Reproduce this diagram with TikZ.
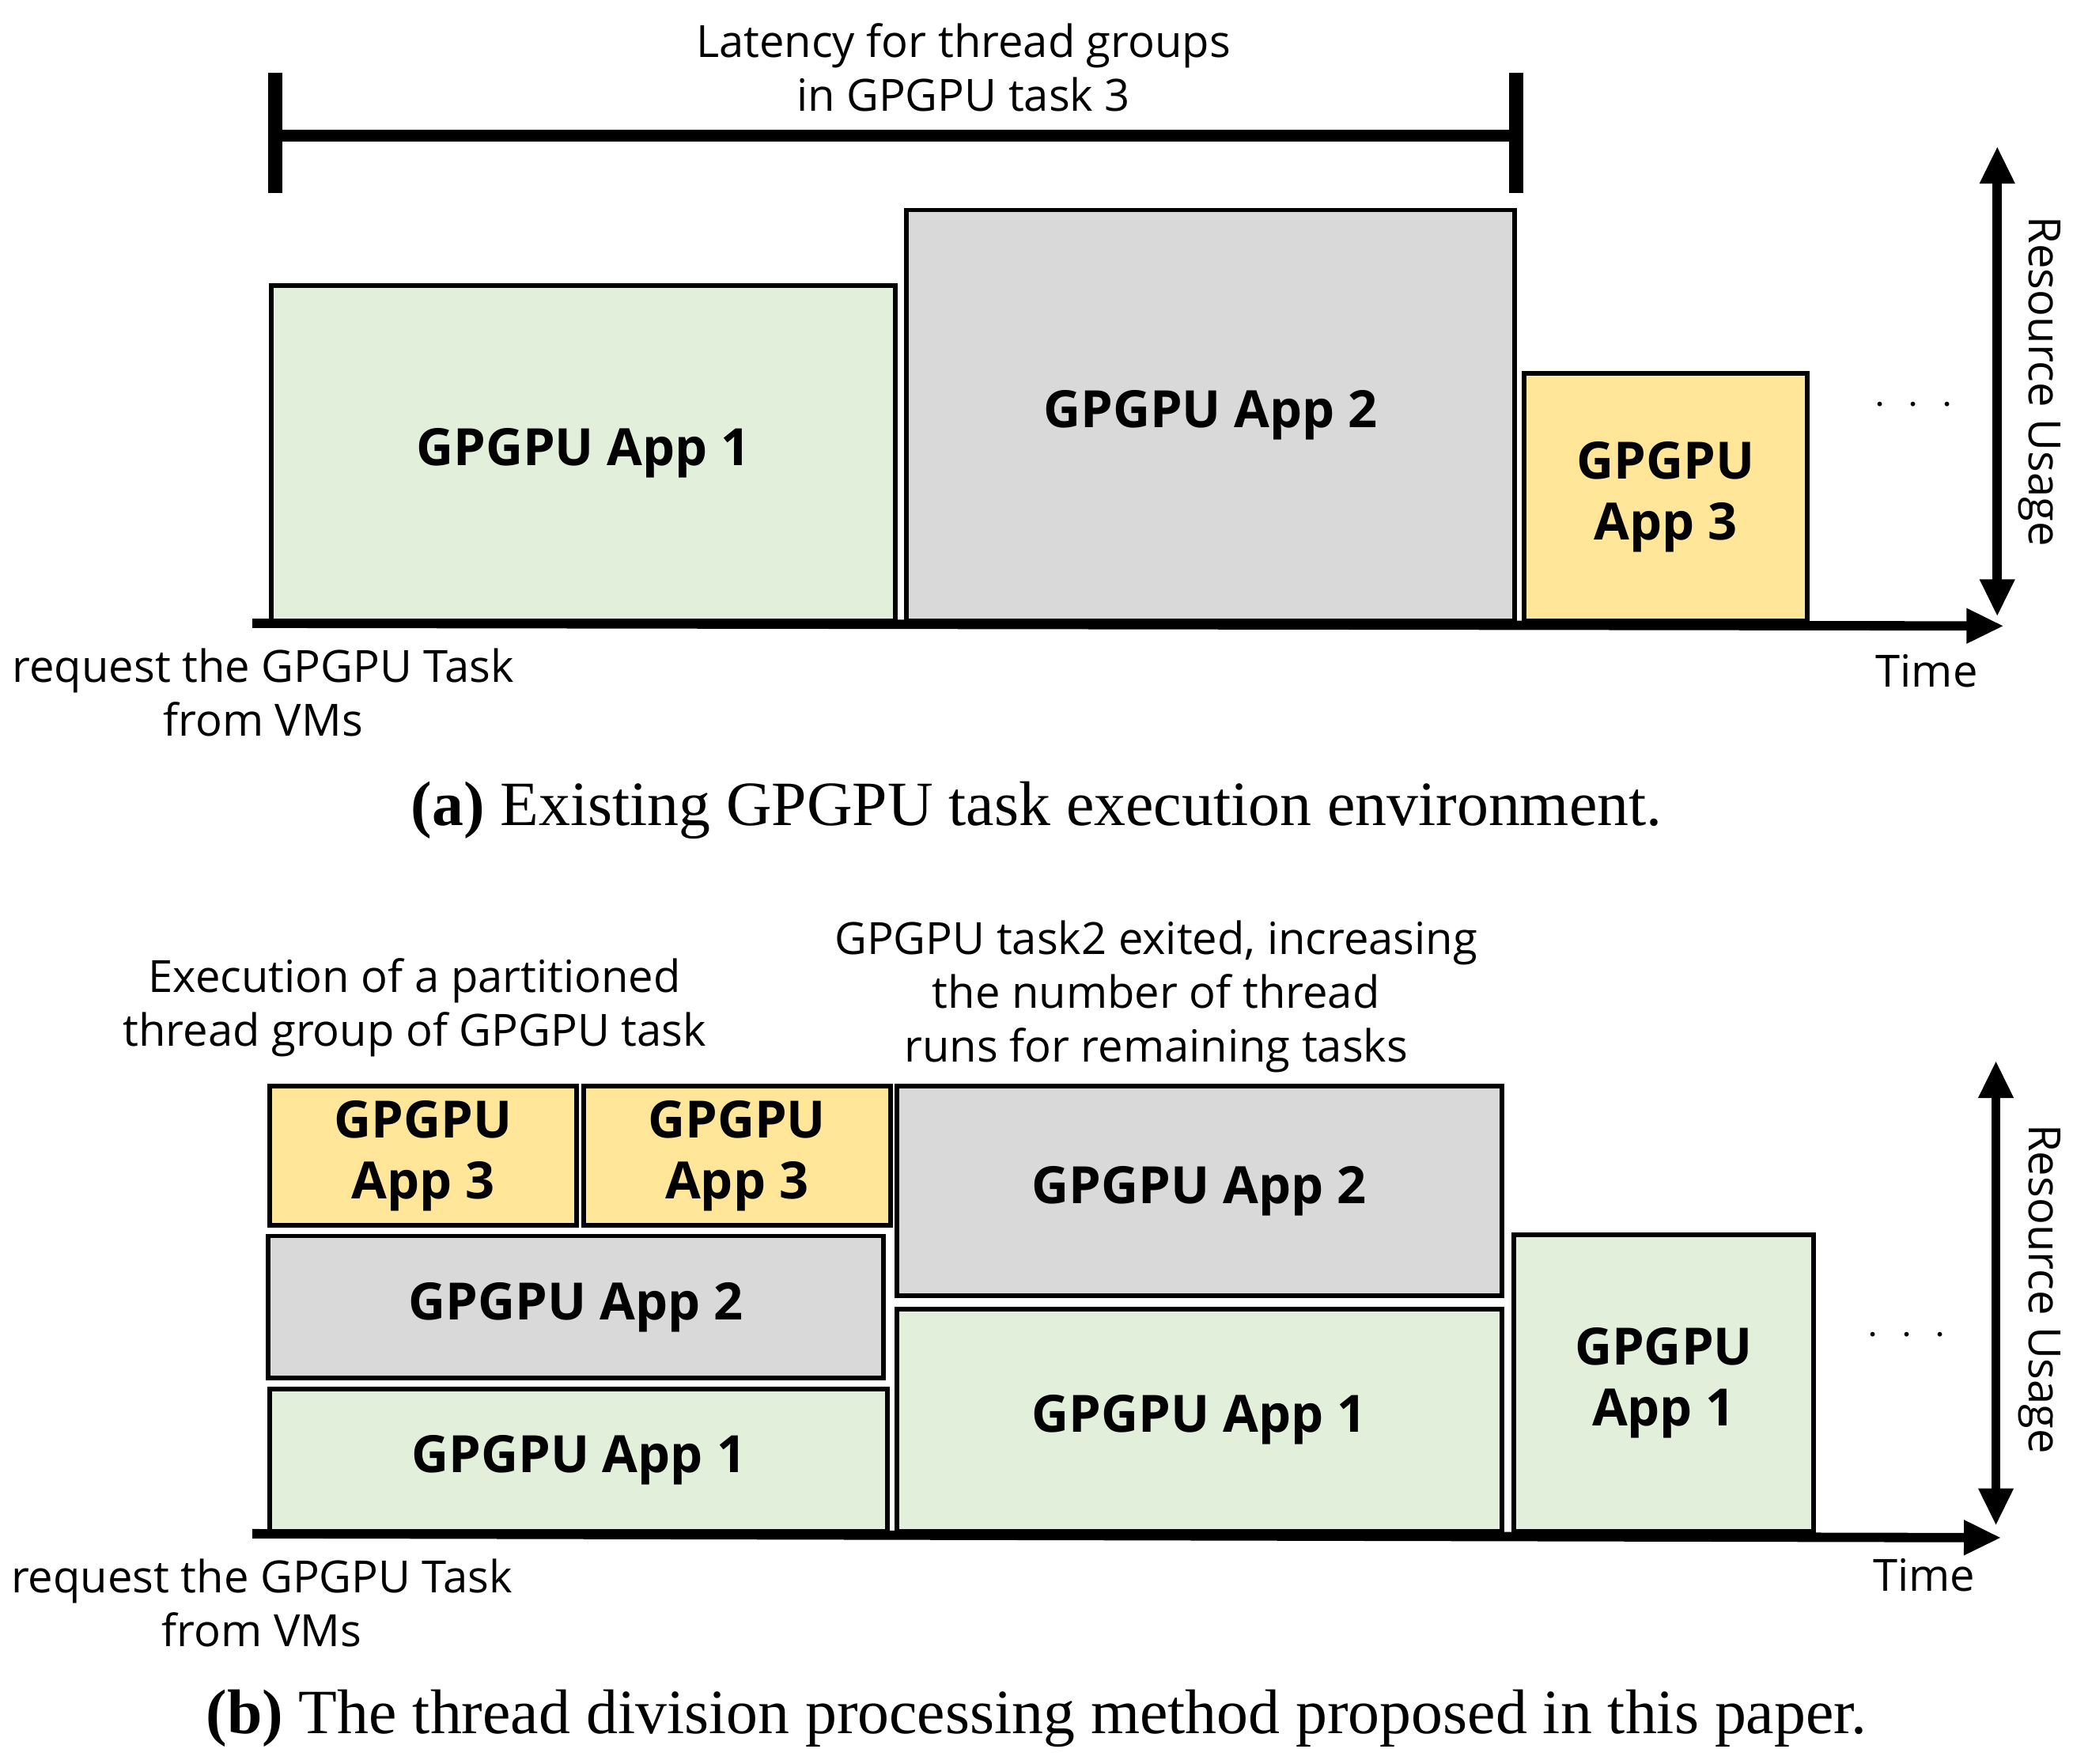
\documentclass[tikz,border=0pt]{standalone}
\usepackage{fontspec}
\setmainfont{Open Sans}
\newfontfamily\capfont{Liberation Serif}
\usetikzlibrary{arrows.meta}
\definecolor{appgreen}{HTML}{E2EFDA}
\definecolor{appgray}{HTML}{D9D9D9}
\definecolor{appyellow}{HTML}{FFE699}
\begin{document}
\begin{tikzpicture}[x=0.01cm, y=-0.01cm,
    box/.style={draw=black, line width=1pt, font=\fontsize{11}{13}\selectfont\bfseries, align=center},
    lbl/.style={font=\fontsize{9.5}{11.5}\selectfont, align=center},
    figcap/.style={font=\capfont\fontsize{13.5}{16}\selectfont},
    axis/.style={line width=2pt, -{Triangle[length=8pt,width=7pt]}},
    raxis/.style={line width=2pt, {Triangle[length=8pt,width=7pt]}-{Triangle[length=8pt,width=7pt]}}]
\useasboundingbox (0,0) rectangle (1560,1327);

% ---------- (a) ----------
\node[lbl] (lat) at (725,51) {Latency for thread groups\\in GPGPU task 3};
\coordinate (l1) at (207,102); \coordinate (l2) at (1143,102);
\draw[line width=2.5pt] (l1) -- (l2);
\draw[line width=3pt] (207,55) -- (207,145);
\draw[line width=3pt] (1141,55) -- (1141,145);

\draw[box, fill=appgreen] (204,215) rectangle node (a1) {GPGPU App 1} (674,467);
\draw[box, fill=appgray] (682,158) rectangle node (a2) {GPGPU App 2} (1140,467);
\draw[box, fill=appyellow] (1147,281) rectangle node (a3) {GPGPU\\App 3} (1360,467);
\node[lbl] (dotsa) at (1440,305) {$\cdot\;\cdot\;\cdot$};

\coordinate (ta0) at (190,469); \coordinate (ta1) at (1508,471);
\draw[axis] (ta0) -- (ta1);
\coordinate (ra0) at (1503,110); \coordinate (ra1) at (1503,464);
\draw[raxis] (ra0) -- (ra1);
\node[lbl, rotate=-90] (rua) at (1535,287) {Resource Usage};
\node[lbl] (tia) at (1450,505) {Time};
\node[lbl] (rqa) at (198,521) {request the GPGPU Task\\from VMs};
\node[figcap] (capa) at (780,610) {\textbf{(a)} Existing GPGPU task execution environment.};

% ---------- (b) ----------
\node[lbl] (exb) at (312,758) {Execution of a partitioned\\thread group of GPGPU task};
\node[lbl] (exit) at (870,750) {GPGPU task2 exited, increasing\\the number of thread\\runs for remaining tasks};

\draw[box, fill=appyellow] (203,817) rectangle node (b3a) {GPGPU\\App 3} (434,922);
\draw[box, fill=appyellow] (439,817) rectangle node (b3b) {GPGPU\\App 3} (670,922);
\draw[box, fill=appgray] (202,930) rectangle node (b2a) {GPGPU App 2} (665,1037);
\draw[box, fill=appgreen] (203,1045) rectangle node (b1a) {GPGPU App 1} (668,1152);
\draw[box, fill=appgray] (675,817) rectangle node (b2b) {GPGPU App 2} (1130,975);
\draw[box, fill=appgreen] (675,985) rectangle node (b1b) {GPGPU App 1} (1130,1152);
\draw[box, fill=appgreen] (1139,929) rectangle node (b1c) {GPGPU\\App 1} (1365,1152);
\node[lbl] (dotsb) at (1435,1005) {$\cdot\;\cdot\;\cdot$};

\coordinate (tb0) at (190,1154); \coordinate (tb1) at (1506,1157);
\draw[axis] (tb0) -- (tb1);
\coordinate (rb0) at (1502,798); \coordinate (rb1) at (1502,1148);
\draw[raxis] (rb0) -- (rb1);
\node[lbl, rotate=-90] (rub) at (1535,970) {Resource Usage};
\node[lbl] (tib) at (1448,1185) {Time};
\node[lbl] (rqb) at (197,1206) {request the GPGPU Task\\from VMs};
\node[figcap] (capb) at (780,1293) {\textbf{(b)} The thread division processing method proposed in this paper.};
\end{tikzpicture}
\end{document}
